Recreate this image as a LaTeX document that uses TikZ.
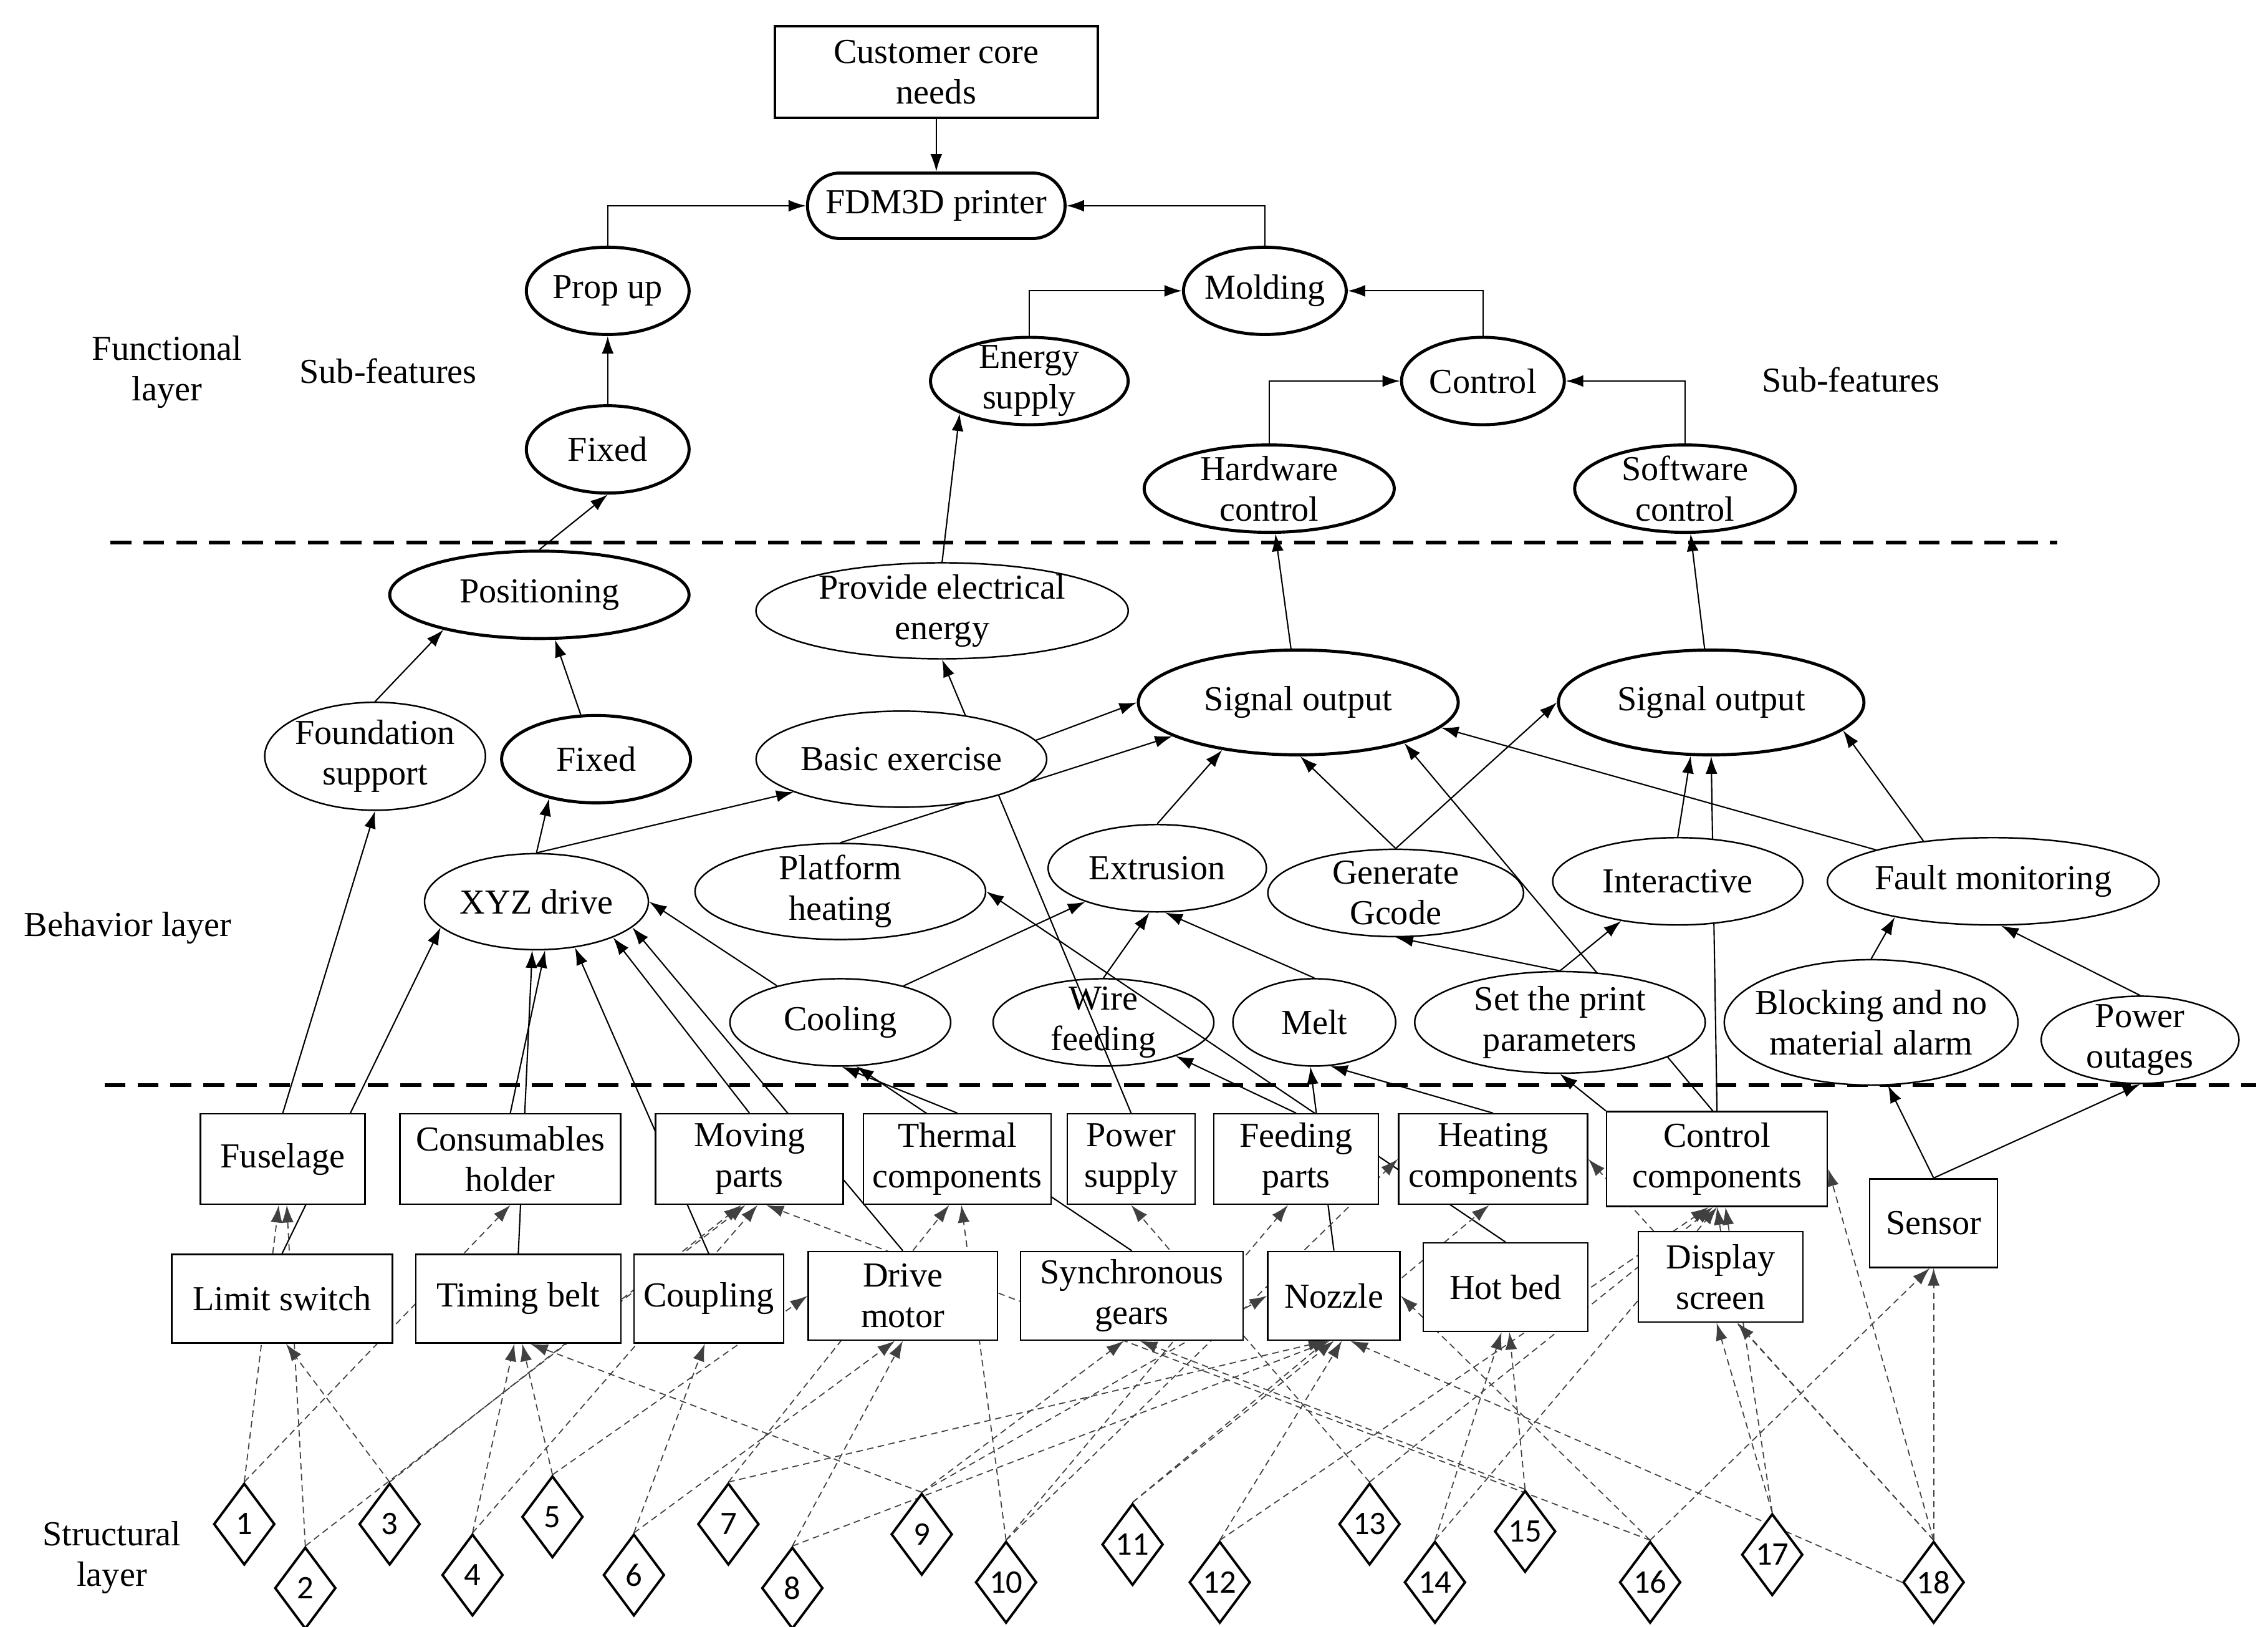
\documentclass[tikz,border=0pt]{standalone}
\usepackage{fontspec}
\setmainfont{Liberation Serif}
\newfontfamily\numfont{Carlito}
\usetikzlibrary{arrows.meta,shapes.geometric,backgrounds}

\tikzset{
  thickell/.style={ellipse, draw, line width=1.4pt, fill=white, inner xsep=-3cm, inner ysep=-1.5cm, align=center},
  thinell/.style={thickell, line width=0.7pt},
  part/.style={rectangle, draw, line width=0.7pt, fill=white, inner sep=0pt, align=center},
  num/.style={diamond, draw, line width=1.1pt, fill=white, inner sep=0pt, minimum width=0.98cm, minimum height=1.31cm, font=\numfont\fontsize{15}{15}\selectfont},
  link/.style={->, line width=0.6pt},
  dlink/.style={->, line width=0.5pt, black!75, dash pattern=on 3pt off 2pt},
  layerline/.style={line width=1.6pt, dash pattern=on 9.5pt off 5.5pt}
}

\begin{document}
\begin{tikzpicture}[x=0.02332cm, y=-0.02332cm, font=\fontsize{16}{18.5}\selectfont, >={Latex[length=2.8mm,width=1.9mm]}]
\useasboundingbox (0,0) rectangle (1560,1118.4);

% functional layer
\node[part, line width=1.3pt, minimum width=5.18cm, minimum height=1.47cm] (cust) at (644,49.5) {Customer core\\needs};
\node[part, line width=1.4pt, rounded corners=0.52cm, minimum width=4.13cm, minimum height=1.05cm] (fdm) at (644,141.5) {FDM3D printer};
\node[thickell, minimum width=2.61cm, minimum height=1.40cm] (propup) at (418,200) {Prop up};
\node[thickell, minimum width=2.61cm, minimum height=1.40cm] (fixtop) at (418,309) {Fixed};
\node[thickell, minimum width=2.61cm, minimum height=1.40cm] (molding) at (870,200) {Molding};
\node[thickell, minimum width=3.17cm, minimum height=1.40cm] (energy) at (708,262) {Energy\\supply};
\node[thickell, minimum width=2.61cm, minimum height=1.40cm] (control) at (1020,262) {Control};
\node[thickell, minimum width=4.01cm, minimum height=1.40cm] (hardware) at (873,336) {Hardware\\control};
\node[thickell, minimum width=3.54cm, minimum height=1.40cm] (software) at (1159,336) {Software\\control};

\node[align=center] (funlabel) at (115,256) {Functional\\layer};
\node (subleft) at (267,255) {Sub-features};
\node (subright) at (1273,261) {Sub-features};

% behavior layer
\node[thickell, minimum width=4.80cm, minimum height=1.40cm] (posit) at (371,409) {Positioning};
\node[thinell, minimum width=5.97cm, minimum height=1.54cm] (provide) at (648,420) {Provide electrical\\energy};
\node[thickell, minimum width=5.13cm, minimum height=1.68cm] (sigA) at (893,483) {Signal output};
\node[thickell, minimum width=4.90cm, minimum height=1.68cm] (sigB) at (1177,483) {Signal output};
\node[thinell, minimum width=3.54cm, minimum height=1.73cm] (found) at (258,520) {Foundation\\support};
\node[thickell, minimum width=3.03cm, minimum height=1.40cm] (fixbeh) at (410,522) {Fixed};
\node[thinell, minimum width=4.66cm, minimum height=1.54cm] (basic) at (620,522) {Basic exercise};
\node[thinell, minimum width=3.59cm, minimum height=1.54cm] (xyz) at (369,620) {XYZ drive};
\node[thinell, minimum width=4.66cm, minimum height=1.54cm] (plat) at (578,613) {Platform\\heating};
\node[thinell, minimum width=3.50cm, minimum height=1.40cm] (extr) at (796,597) {Extrusion};
\node[thinell, minimum width=4.10cm, minimum height=1.40cm] (gcode) at (960,614) {Generate\\Gcode};
\node[thinell, minimum width=4.01cm, minimum height=1.40cm] (inter) at (1154,606) {Interactive};
\node[thinell, minimum width=5.32cm, minimum height=1.40cm] (fault) at (1371,606) {Fault monitoring};
\node[thinell, minimum width=3.54cm, minimum height=1.40cm] (cool) at (578,703) {Cooling};
\node[thinell, fill=none, minimum width=3.54cm, minimum height=1.40cm] (wire) at (759,703) {Wire\\feeding};
\node[thinell, minimum width=2.61cm, minimum height=1.40cm] (melt) at (904,703) {Melt};
\node[thinell, minimum width=4.66cm, minimum height=1.63cm] (setp) at (1073,703) {Set the print\\parameters};
\node[thinell, minimum width=4.71cm, minimum height=2.01cm] (block) at (1287,703) {Blocking and no\\material alarm};
\node[thinell, minimum width=3.17cm, minimum height=1.40cm] (powout) at (1472,715) {Power\\outages};

\node (behlabel) at (88,638) {Behavior layer};

% structural layer
\node[part, minimum width=2.64cm, minimum height=1.45cm] (fus) at (194.5,797) {Fuselage};
\node[part, minimum width=3.54cm, minimum height=1.45cm] (cons) at (351,797) {Consumables\\holder};
\node[part, minimum width=3.01cm, minimum height=1.45cm] (moving) at (515.5,797) {Moving\\parts};
\node[part, minimum width=3.01cm, minimum height=1.45cm] (thermal) at (658.5,797) {Thermal\\components};
\node[part, minimum width=2.05cm, minimum height=1.45cm] (power) at (778,797) {Power\\supply};
\node[part, minimum width=2.64cm, minimum height=1.45cm] (feed) at (891.5,797) {Feeding\\parts};
\node[part, minimum width=3.03cm, minimum height=1.45cm] (heat) at (1027,797) {Heating\\components};
\node[part, minimum width=3.54cm, minimum height=1.52cm] (ctrlc) at (1181,797) {Control\\components};
\node[part, minimum width=2.05cm, minimum height=1.42cm] (sensor) at (1330,841) {Sensor};
\node[part, minimum width=3.54cm, minimum height=1.42cm] (limit) at (194,893) {Limit switch};
\node[part, minimum width=3.29cm, minimum height=1.42cm] (timing) at (356.5,893) {Timing belt};
\node[part, minimum width=2.40cm, minimum height=1.42cm] (coupling) at (487.5,893) {Coupling};
\node[part, minimum width=3.03cm, minimum height=1.42cm] (drive) at (621,891) {Drive\\motor};
\node[part, minimum width=3.57cm, minimum height=1.42cm] (sync) at (778.5,891) {Synchronous\\gears};
\node[part, minimum width=2.12cm, minimum height=1.42cm] (nozzle) at (917.5,891) {Nozzle};
\node[part, minimum width=2.64cm, minimum height=1.42cm] (hotbed) at (1035.5,885) {Hot bed};
\node[part, minimum width=2.64cm, minimum height=1.45cm] (disp) at (1183.5,878) {Display\\screen};

\node[num] (n1) at (168,1048) {1};
\node[num] (n2) at (210,1092) {2};
\node[num] (n3) at (268,1048) {3};
\node[num] (n4) at (325,1083) {4};
\node[num] (n5) at (380,1043) {5};
\node[num] (n6) at (436,1083) {6};
\node[num] (n7) at (501,1048) {7};
\node[num] (n8) at (545,1092) {8};
\node[num] (n9) at (634,1055) {9};
\node[num] (n10) at (692,1088) {10};
\node[num] (n11) at (779,1062) {11};
\node[num] (n12) at (839,1088) {12};
\node[num] (n13) at (942,1048) {13};
\node[num] (n14) at (987,1088) {14};
\node[num] (n15) at (1049,1053) {15};
\node[num] (n16) at (1135,1088) {16};
\node[num] (n17) at (1219,1069) {17};
\node[num] (n18) at (1330,1088) {18};

\node[align=center] (strlabel) at (77,1071) {Structural\\layer};

\begin{scope}[on background layer]
% layer borders
\draw[layerline] (76,373) -- (1415,373);
\draw[layerline] (72,746) -- (1552,746);

% functional links
\draw[link] (cust) -- (fdm);
\draw[link] (propup.north) |- (fdm.west);
\draw[link] (molding.north) |- (fdm.east);
\draw[link] (fixtop) -- (propup);
\draw[link] (energy.north) |- (molding.west);
\draw[link] (control.north) |- (molding.east);
\draw[link] (hardware.north) |- (control.west);
\draw[link] (software.north) |- (control.east);

% behavior to function
\draw[link] (posit.north) -- (fixtop.south);
\draw[link] (provide.north) -- (energy.-155);
\draw[link] (sigA) -- (hardware);
\draw[link] (sigB) -- (software);

% behavior links
\draw[link] (found.north) -- (posit.-160);
\draw[link] (fixbeh) -- (posit);
\draw[link] (xyz.north) -- (fixbeh.-140);
\draw[link] (xyz.north) -- (basic.-163);
\draw[link] (basic.8) -- (sigA.west);
\draw[link] (plat.north) -- (sigA.-165);
\draw[link] (cool.150) -- (xyz.east);
\draw[link] (cool.30) -- (extr.-155);
\draw[link] (wire.north) -- (extr.-100);
\draw[link] (melt.north) -- (extr.-80);
\draw[link] (extr.north) -- (sigA.-148);
\draw[link] (gcode.north) -- (sigA.-88);
\draw[link] (gcode.north) -- (sigB.west);
\draw[link] (setp.north) -- (gcode.south);
\draw[link] (setp.north) -- (inter.-145);
\draw[link] (inter.north) -- (sigB.-111);
\draw[link] (fault.165) -- (sigA.-10);
\draw[link] (fault.150) -- (sigB.-12);
\draw[link] (block.north) -- (fault.-160);
\draw[link] (powout.north) -- (fault.-80);

% structure to behavior
\draw[link] (fus.north) -- (found.south);
\draw[link] (limit.north) -- (xyz.-165);
\draw[link] (cons.north) -- (xyz.-80);
\draw[link] (timing.north) -- (xyz.-95);
\draw[link] (moving.north) -- (xyz.-25);
\draw[link] (coupling.north) -- (xyz.-50);
\draw[link] (drive.north) -- (xyz.-15);
\draw[link] (thermal.north) -- (cool.-88);
\draw[link] (sync.north) -- (cool.-70);
\draw[link] (power.north) -- (provide.south);
\draw[link] (feed.north) -- (wire.-25);
\draw[link] (nozzle.north) -- (melt.-95);
\draw[link] (heat.north) -- (melt.-70);
\draw[link] (hotbed.north) -- (plat.east);
\draw[link] (ctrlc.north west) -- (setp.south);
\draw[link] (ctrlc.95) -- (sigA.-21);
\draw[link] (ctrlc.north) -- (sigB.south);
\draw[link] (sensor.north) -- (block.-75);
\draw[link] (sensor.north) -- (powout.south);

% parts to structure
\draw[dlink] (n1.north) -- (fus.-95);
\draw[dlink] (n1.north) -- (cons.south);
\draw[dlink] (n2.north) -- (fus.-85);
\draw[dlink] (n2.north) -- (moving.-95);
\draw[dlink] (n3.north) -- (limit.-85);
\draw[dlink] (n3.north) -- (moving.-100);
\draw[dlink] (n4.north) -- (timing.-95);
\draw[dlink] (n4.north) -- (moving.-80);
\draw[dlink] (n5.north) -- (timing.-85);
\draw[dlink] (n5.north) -- (drive.west);
\draw[dlink] (n6.north) -- (coupling.-95);
\draw[dlink] (n6.north) -- (drive.-100);
\draw[dlink] (n7.north) -- (thermal.-100);
\draw[dlink] (n7.north) -- (nozzle.-100);
\draw[dlink] (n8.north) -- (drive.-90);
\draw[dlink] (n8.north) -- (nozzle.-95);
\draw[dlink] (n9.north) -- (timing.-75);
\draw[dlink] (n9.north) -- (sync.-100);
\draw[dlink] (n9.north) -- (nozzle.west);
\draw[dlink] (n10.north) -- (thermal.-85);
\draw[dlink] (n10.north) -- (feed.-100);
\draw[dlink] (n10.north) -- (heat.west);
\draw[dlink] (n11.north) -- (nozzle.-90);
\draw[dlink] (n11.north) -- (heat.-95);
\draw[dlink] (n12.north) -- (nozzle.-80);
\draw[dlink] (n12.north) -- (ctrlc.-100);
\draw[dlink] (n13.north) -- (power.south);
\draw[dlink] (n13.north) -- (ctrlc.-95);
\draw[dlink] (n14.north) -- (hotbed.-95);
\draw[dlink] (n14.north) -- (ctrlc.-90);
\draw[dlink] (n15.north) -- (hotbed.-85);
\draw[dlink] (n15.north) -- (sync.-80);
\draw[dlink] (n16.north) -- (moving.-70);
\draw[dlink] (n16.north) -- (nozzle.east);
\draw[dlink] (n16.north) -- (sensor.-95);
\draw[dlink] (n17.north) -- (disp.-95);
\draw[dlink] (n17.north) -- (ctrlc.-80);
\draw[dlink] (n18.north) -- (sensor.south);
\draw[dlink] (n18.north) -- (ctrlc.-5);
\draw[dlink] (n18.north) -- (disp.-70);
\draw[dlink] (n18.north) -- (heat.east);
\draw[dlink] (n18.west) -- (nozzle.-70);
\draw[dlink] (disp.north) -- (ctrlc.south);
\end{scope}
\end{tikzpicture}
\end{document}
